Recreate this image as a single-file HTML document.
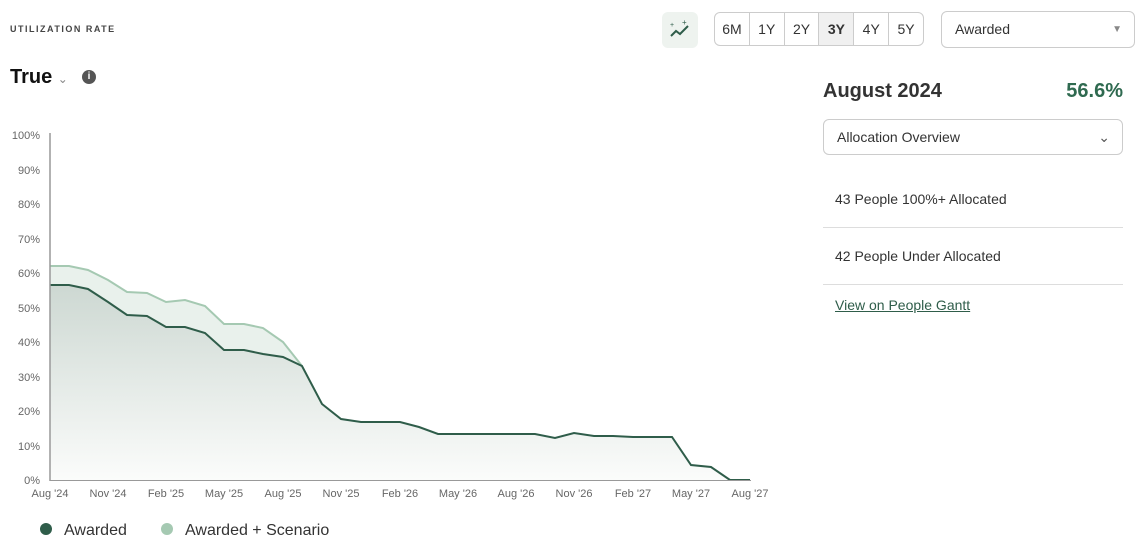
<!DOCTYPE html>
<html><head><style>
body{margin:0;width:1144px;height:546px;background:#fff;font-family:"Liberation Sans",sans-serif;position:relative;overflow:hidden}
.a{position:absolute}
.seg{position:absolute;left:714px;top:12px;height:34px;width:210px;border:1px solid #ccc;border-radius:6px;display:flex;overflow:hidden;box-sizing:border-box}
.seg div{flex:1;text-align:center;line-height:32px;font-size:14px;color:#333;border-right:1px solid #ccc}
.seg div:last-child{border-right:none}
</style></head><body>
<div class="a" style="left:10px;top:24px;font-size:9px;letter-spacing:1.5px;color:#444;font-weight:bold">UTILIZATION RATE</div>
<div class="a" style="left:10px;top:66px;font-size:20px;font-weight:bold;color:#111">True <span style="font-size:12px;color:#888;font-weight:normal">&#8964;</span></div>
<div class="a" style="left:82px;top:70px;width:14px;height:14px;border-radius:50%;background:#555;color:#fff;font-size:10px;text-align:center;line-height:14px;font-weight:bold">i</div>
<div class="a" style="left:662px;top:12px;width:36px;height:36px;background:#eef3ef;border-radius:6px"><svg width="36" height="36"><polyline points="9,24 14,19 18,22 26,14" fill="none" stroke="#2f5d4a" stroke-width="2"/><text x="20" y="13" font-size="8" fill="#2f5d4a">+</text><text x="8" y="15" font-size="7" fill="#2f5d4a">+</text></svg></div>
<div class="seg"><div>6M</div><div>1Y</div><div>2Y</div><div style="background:#f0f0f0;font-weight:bold">3Y</div><div>4Y</div><div>5Y</div></div>
<div class="a" style="left:941px;top:11px;width:194px;height:37px;border:1px solid #ccc;border-radius:6px;box-sizing:border-box;font-size:14px;line-height:35px;padding-left:13px;color:#333">Awarded<span style="position:absolute;right:12px;top:0;color:#888;font-size:10px">&#9660;</span></div>
<div class="a" style="left:823px;top:80px;font-size:20px;font-weight:bold;color:#333">August 2024</div>
<div class="a" style="right:21px;top:80px;font-size:20px;font-weight:bold;color:#2f6a50">56.6%</div>
<div class="a" style="left:823px;top:119px;width:300px;height:36px;border:1px solid #ccc;border-radius:6px;box-sizing:border-box;font-size:14px;line-height:34px;padding-left:13px;color:#333">Allocation Overview<span style="position:absolute;right:12px;top:0;color:#555">&#8964;</span></div>
<div class="a" style="left:835px;top:191px;font-size:14px;color:#333">43 People 100%+ Allocated</div>
<div class="a" style="left:823px;top:227px;width:300px;border-top:1px solid #ddd"></div>
<div class="a" style="left:835px;top:248px;font-size:14px;color:#333">42 People Under Allocated</div>
<div class="a" style="left:823px;top:284px;width:300px;border-top:1px solid #ddd"></div>
<div class="a" style="left:835px;top:297px;font-size:14px;color:#2f5d4a;text-decoration:underline">View on People Gantt</div>
<svg class="a" style="left:0;top:0" width="800" height="546">
<defs><linearGradient id="g" x1="0" y1="0" x2="0" y2="1"><stop offset="0" stop-color="#cdd8d2"/><stop offset="1" stop-color="#fbfcfb"/></linearGradient></defs>
<g font-size="11" fill="#666" text-anchor="end">
<text x="40" y="139">100%</text><text x="40" y="174">90%</text><text x="40" y="208">80%</text><text x="40" y="243">70%</text><text x="40" y="277">60%</text><text x="40" y="312">50%</text><text x="40" y="346">40%</text><text x="40" y="381">30%</text><text x="40" y="415">20%</text><text x="40" y="450">10%</text><text x="40" y="484">0%</text></g>
<polygon fill="#e9f1ec" points="50,266 69,266 88,270 108,280 127,292 147,293 166,302 185,300 205,306 224,324 244,324 263,328 283,342 302,366 283,357 263,354 244,350 224,350 205,333 185,327 166,327 147,316 127,315 108,302 88,289 69,285 50,285"/>
<polygon fill="url(#g)" points="50,285 69,285 88,289 108,302 127,315 147,316 166,327 185,327 205,333 224,350 244,350 263,354 283,357 302,366 322,404 341,419 361,422 380,422 400,422 419,427 438,434 458,434 477,434 497,434 516,434 535,434 555,438 574,433 594,436 613,436 633,437 652,437 672,437 691,465 711,467 730,480 750,480 50,480"/>
<polyline fill="none" stroke="#a5c9b2" stroke-width="2" points="50,266 69,266 88,270 108,280 127,292 147,293 166,302 185,300 205,306 224,324 244,324 263,328 283,342 302,366"/>
<polyline fill="none" stroke="#2f5d4a" stroke-width="2" points="50,285 69,285 88,289 108,302 127,315 147,316 166,327 185,327 205,333 224,350 244,350 263,354 283,357 302,366 322,404 341,419 361,422 380,422 400,422 419,427 438,434 458,434 477,434 497,434 516,434 535,434 555,438 574,433 594,436 613,436 633,437 652,437 672,437 691,465 711,467 730,480 750,480"/>
<line x1="50" y1="133" x2="50" y2="481" stroke="#999" stroke-width="1.5"/>
<line x1="50" y1="480.5" x2="751" y2="480.5" stroke="#999"/>
<g font-size="11" fill="#666" text-anchor="middle">
<text x="50" y="497">Aug '24</text><text x="108" y="497">Nov '24</text><text x="166" y="497">Feb '25</text><text x="224" y="497">May '25</text><text x="283" y="497">Aug '25</text><text x="341" y="497">Nov '25</text><text x="400" y="497">Feb '26</text><text x="458" y="497">May '26</text><text x="516" y="497">Aug '26</text><text x="574" y="497">Nov '26</text><text x="633" y="497">Feb '27</text><text x="691" y="497">May '27</text><text x="750" y="497">Aug '27</text></g>
<circle cx="46" cy="529" r="6" fill="#2f5d4a"/><text x="64" y="535" font-size="16" fill="#333">Awarded</text>
<circle cx="167" cy="529" r="6" fill="#a5c9b2"/><text x="185" y="535" font-size="16" fill="#333">Awarded + Scenario</text>
</svg>
</body></html>
